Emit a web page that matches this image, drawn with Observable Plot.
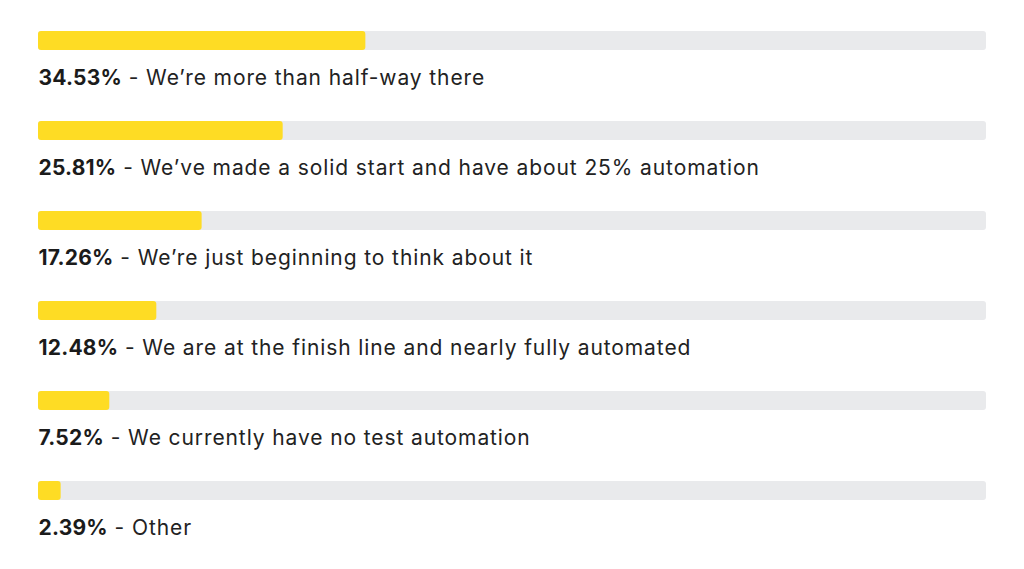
<!DOCTYPE html>
<html>
<head>
<meta charset="utf-8">
<script src="https://cdn.jsdelivr.net/npm/d3@7"></script>
<script src="https://cdn.jsdelivr.net/npm/@observablehq/plot@0.6"></script>
<style>
  html, body { margin: 0; padding: 0; background: #fff; }
</style>
</head>
<body>
<div id="chart"></div>
<script>
const categories = [
  "We’re more than half-way there",
  "We’ve made a solid start and have about 25% automation",
  "We’re just beginning to think about it",
  "We are at the finish line and nearly fully automated",
  "We currently have no test automation",
  "Other"
];
const values = [34.53, 25.81, 17.26, 12.48, 7.52, 2.39];
const total = 100;

const data = categories.map((c, i) => ({category: c, value: values[i], total}));

const chart = Plot.plot({
  width: 1024,
  height: 569,
  margin: 0,
  x: {domain: [0, 100], range: [38, 986], axis: null},
  y: {type: "band", domain: categories, range: [31, 571], padding: 0, axis: null},
  style: {fontFamily: "Inter, sans-serif", background: "#fff"},
  marks: [
    Plot.barX(data, {x: "total", y: "category", fill: "#e9eaec", insetBottom: 71, rx: 3}),
    Plot.barX(data, {x: "value", y: "category", fill: "#fedc24", insetBottom: 71, rx: 3}),
    Plot.text(data, {
      x: 0, y: "category", text: d => `${d.value.toFixed(2)}%|${d.category}`,
      textAnchor: "start", dy: 2, fontSize: 21, fill: "#1b1b1b", className: "lbl"
    })
  ]
});
document.getElementById("chart").appendChild(chart);

d3.select(chart).selectAll(".lbl text").each(function() {
  const [pct, label] = this.textContent.split("|");
  const t = d3.select(this);
  t.text(null);
  t.append("tspan").attr("font-weight", 700).attr("letter-spacing", "0.2px").text(pct);
  t.append("tspan").attr("letter-spacing", "0.9px").attr("fill", "#222").text(" - " + label);
});
</script>
</body>
</html>
